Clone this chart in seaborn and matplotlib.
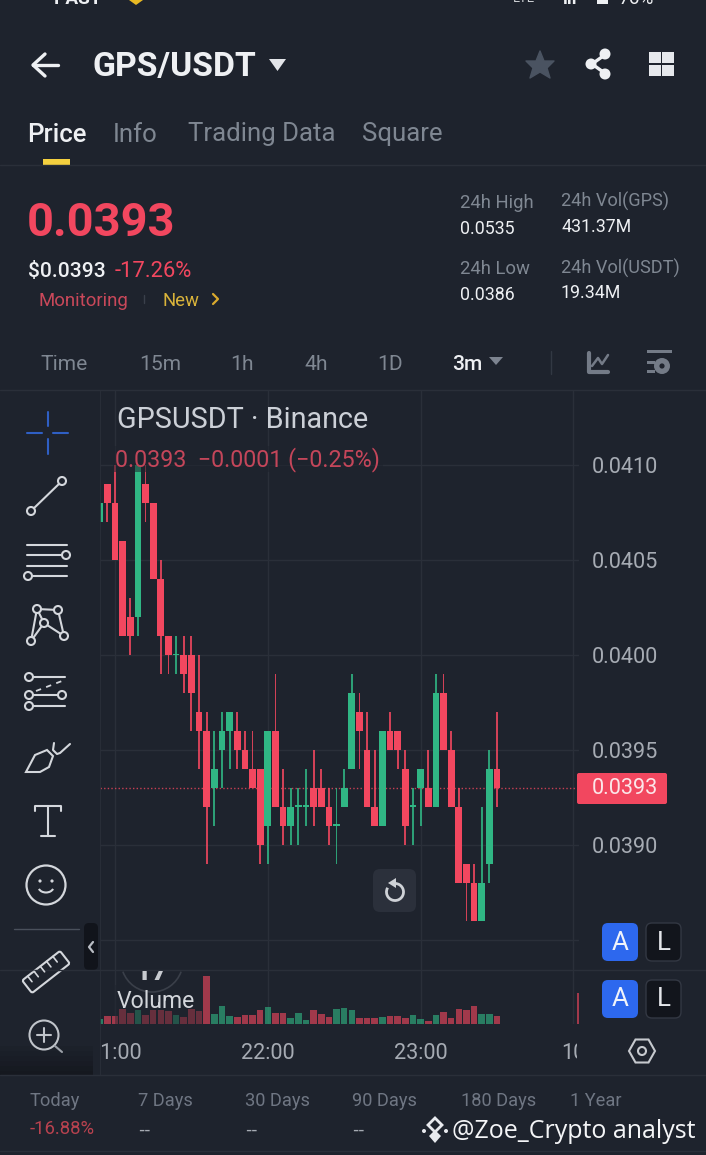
import matplotlib
matplotlib.use('Agg')
import matplotlib.pyplot as plt
import seaborn as sns
import pandas as pd
from matplotlib.patches import Circle, FancyBboxPatch, Polygon, Rectangle, Arc
from matplotlib.transforms import Bbox, Affine2D

# 3m candles
candle_open = [0.0407, 0.0409, 0.0408, 0.0406, 0.0402, 0.0402, 0.0409, 0.0408, 0.0404, 0.0401,
               0.0400, 0.0400, 0.0400, 0.0397, 0.0396, 0.0393, 0.0395, 0.0396, 0.0396, 0.0395,
               0.0394, 0.0394, 0.0391, 0.0396, 0.0392, 0.0391, 0.0392, 0.0392, 0.0393, 0.0393,
               0.0392, 0.0391, 0.0392, 0.0394, 0.0397, 0.0395, 0.0392, 0.0391, 0.0396, 0.0396,
               0.0394, 0.0392, 0.0393, 0.0393, 0.0392, 0.0398, 0.0395, 0.0392, 0.0389, 0.0388,
               0.0386, 0.0389, 0.0394]
candle_close = [0.0408, 0.0408, 0.0405, 0.0401, 0.0401, 0.0410, 0.0408, 0.0404, 0.0401, 0.0400,
                0.0400, 0.0399, 0.0398, 0.0396, 0.0392, 0.0394, 0.0396, 0.0397, 0.0395, 0.0394,
                0.0393, 0.0390, 0.0396, 0.0392, 0.0391, 0.0392, 0.0392, 0.0392, 0.0392, 0.0392,
                0.0391, 0.0391, 0.0393, 0.0398, 0.0396, 0.0392, 0.0391, 0.0396, 0.0395, 0.0395,
                0.0391, 0.0392, 0.0394, 0.0392, 0.0398, 0.0395, 0.0392, 0.0388, 0.0388, 0.0386,
                0.0388, 0.0394, 0.0393]
candle_high = [0.0408, 0.0409, 0.0410, 0.0406, 0.0403, 0.0410, 0.0410, 0.0408, 0.0405, 0.0401,
               0.0401, 0.0401, 0.0401, 0.0400, 0.0397, 0.0396, 0.0397, 0.0397, 0.0397, 0.0396,
               0.0396, 0.0394, 0.0396, 0.0399, 0.0394, 0.0393, 0.0393, 0.0394, 0.0395, 0.0394,
               0.0393, 0.0393, 0.0394, 0.0399, 0.0398, 0.0397, 0.0395, 0.0396, 0.0397, 0.0396,
               0.0395, 0.0393, 0.0394, 0.0395, 0.0399, 0.0399, 0.0396, 0.0393, 0.0389, 0.0389,
               0.0392, 0.0395, 0.0397]
candle_low = [0.0407, 0.0407, 0.0405, 0.0401, 0.0400, 0.0401, 0.0407, 0.0404, 0.0399, 0.0399,
              0.0399, 0.0398, 0.0396, 0.0394, 0.0389, 0.0391, 0.0393, 0.0394, 0.0394, 0.0394,
              0.0393, 0.0389, 0.0389, 0.0392, 0.0390, 0.0390, 0.0390, 0.0391, 0.0391, 0.0392,
              0.0390, 0.0389, 0.0392, 0.0394, 0.0394, 0.0392, 0.0391, 0.0391, 0.0395, 0.0394,
              0.0390, 0.0390, 0.0391, 0.0392, 0.0392, 0.0395, 0.0392, 0.0388, 0.0386, 0.0386,
              0.0386, 0.0388, 0.0392]
volume = [14, 24, 24, 45, 32, 42, 27, 42, 42, 40, 28, 22, 45, 38, 145, 30, 55, 25, 21, 27,
          27, 42, 52, 33, 33, 17, 33, 12, 42, 30, 22, 45, 47, 42, 18, 18, 17, 21, 24, 24,
          18, 27, 15, 10, 27, 36, 18, 44, 42, 55, 30, 30, 24]
stray_index = [62.65]
stray_volume = [93]

price_ticks = [0.0385, 0.0390, 0.0395, 0.0400, 0.0405, 0.0410]
price_labels = ['', '0.0390', '0.0395', '0.0400', '0.0405', '0.0410']
time_ticks = [2, 22, 42, 62]
time_labels = ['21:00', '22:00', '23:00', '10']
last_price = 0.0393

interval_names = ['Time', '15m', '1h', '4h', '1D']
interval_x = [40, 139, 230, 304, 377]
period_names = ['Today', '7 Days', '30 Days', '90 Days', '180 Days', '1 Year']
period_values = ['-16.88%', '--', '--', '--', '', '']
period_x = [30, 138, 245, 352, 461, 570]

BG = '#1e232d'
LINE = '#2a2f39'
RED = '#f2475f'
GREEN = '#30b684'
WHITE = '#eef0f3'
GREY = '#7f8792'
ICON = '#d4d7dc'

sns.set_theme(style='dark', rc={'figure.facecolor': BG, 'axes.facecolor': BG, 'savefig.facecolor': BG,
                                'patch.force_edgecolor': False})
plt.rcParams['font.family'] = ['Roboto', 'DejaVu Sans']

df = pd.DataFrame({'idx': range(len(candle_open)), 'open': candle_open, 'close': candle_close,
                   'high': candle_high, 'low': candle_low, 'volume': volume})
df['up'] = df['close'] >= df['open']
df['body_lo'] = df[['open', 'close']].min(axis=1)
# doji candles still show as a hairline
df['body_h'] = (df['close'] - df['open']).abs().clip(lower=0.000007)
df['wick_h'] = df['high'] - df['low']

fig = plt.figure(figsize=(7.06, 11.55), dpi=100)
W, H = 706, 1155


def axes_px(x0, y0, x1, y1):
    return fig.add_axes([x0 / W, 1 - y1 / H, (x1 - x0) / W, (y1 - y0) / H])


ax = axes_px(100, 390, 579, 970)
vol_ax = axes_px(100, 970, 579, 1024)

# wicks then bodies, one colour at a time
for is_up, col in [(True, GREEN), (False, RED)]:
    sub = df[df['up'] == is_up]
    sns.barplot(data=sub, x='idx', y='wick_h', bottom=sub['low'].values, native_scale=True, color=col,
                saturation=1, width=0.24, errorbar=None, linewidth=0, alpha=0.85, ax=ax, zorder=3)
    sns.barplot(data=sub, x='idx', y='body_h', bottom=sub['body_lo'].values, native_scale=True, color=col,
                saturation=1, width=0.88, errorbar=None, linewidth=0, ax=ax, zorder=4)
    sns.barplot(data=sub, x='idx', y='volume', native_scale=True, color=col, saturation=1, width=0.86,
                errorbar=None, linewidth=0, alpha=0.62, ax=vol_ax, zorder=3)
stray = pd.DataFrame({'idx': stray_index, 'volume': stray_volume})
sns.barplot(data=stray, x='idx', y='volume', native_scale=True, color=RED, saturation=1, width=0.3,
            errorbar=None, linewidth=0, alpha=0.62, ax=vol_ax, zorder=3)

ax.axhline(last_price, color=RED, lw=1, ls=(0, (1, 1.6)), alpha=0.8, zorder=2)

for a in (ax, vol_ax):
    a.set_xlim(0.04, 62.73)
    a.set_xlabel('')
    a.set_ylabel('')
    a.set_xticks(time_ticks)
    a.set_axisbelow(True)
    a.xaxis.grid(True, color=LINE, lw=1)
    sns.despine(ax=a, left=True, right=True, top=True, bottom=True)
    a.tick_params(length=0)

ax.set_ylim(0.03834, 0.041395)
ax.set_yticks(price_ticks)
ax.set_yticklabels(price_labels)
ax.yaxis.tick_right()
ax.yaxis.grid(True, color=LINE, lw=1)
ax.tick_params(axis='y', labelsize=15.6, labelcolor='#a6abb3', pad=9.5)
ax.tick_params(axis='x', labelbottom=False)

vol_ax.set_ylim(0, 162)
vol_ax.set_yticks([])
vol_ax.set_xticklabels(time_labels)
vol_ax.tick_params(axis='x', labelsize=15.6, labelcolor='#a6abb3', pad=13.4)
for lab in vol_ax.get_xticklabels():
    lab.set_clip_box(Bbox([[100, 0], [577, H]]))
    lab.set_clip_on(True)

# screen chrome, drawn in pixel coordinates on top of the chart
ui = fig.add_axes([0, 0, 1, 1], zorder=5)
ui.set_xlim(0, W)
ui.set_ylim(H, 0)
ui.axis('off')
ui.patch.set_alpha(0)


def label(x, y, s, size, color=GREY, weight='normal', ha='left', family=None):
    return ui.text(x, y + 1.5, s, fontsize=size * 0.72, color=color, fontweight=weight, ha=ha, va='center',
                   family=family or ['Roboto', 'DejaVu Sans'])


def seg(xs, ys, color=ICON, lw=1.5, **kw):
    ui.plot(xs, ys, color=color, lw=lw, solid_capstyle='round', **kw)


def ring(x, y, r=4, color=ICON, lw=1.5):
    ui.add_patch(Circle((x, y), r, fc=BG, ec=color, lw=lw, zorder=4))


def box(x0, y0, x1, y1, fc, ec='none', rad=5, lw=1, **kw):
    p = FancyBboxPatch((x0 + rad, y0 + rad), x1 - x0 - 2 * rad, y1 - y0 - 2 * rad,
                       boxstyle=f'round,pad={rad},rounding_size={rad}', fc=fc, ec=ec, lw=lw, **kw)
    ui.add_patch(p)


# divider lines
for yy in (165, 390, 970, 1075, 1151):
    ui.plot([0, W], [yy, yy], color=LINE, lw=1)
ui.plot([100, 100], [390, 1075], color=LINE, lw=0.6)

# cut-off status bar
label(54, -3, 'PAST', 19, WHITE, 'bold')
ui.add_patch(Polygon([[129, 0], [143, 0], [136, 5]], fc='#e8b923'))
label(513, -3, 'LTE', 13, '#cfd2d6')
label(563, -3, 'ııı', 18, WHITE, 'bold')
ui.add_patch(Rectangle((597, 0), 11, 4, fc=WHITE))
label(618, -3, '76%', 19, WHITE)

# header
seg([33, 58], [65, 65], color=WHITE, lw=2.4)
seg([45, 33, 45], [54, 65, 76], color=WHITE, lw=2.4)
label(93, 65.5, 'GPS/USDT', 33.8, WHITE, 'bold')
ui.add_patch(Polygon([[269, 59], [286, 59], [277.5, 71]], fc='#e3e5e9'))
star = [[540, 51], [544, 61], [554, 61], [547, 68], [550, 78], [540, 72], [530, 78], [533, 68], [526, 61], [536, 61]]
ui.add_patch(Polygon(star, fc='#4a5361', ec='#4a5361', lw=1, joinstyle='round'))
seg([592, 606], [64, 54], color=WHITE, lw=2.4)
seg([592, 606], [64, 74], color=WHITE, lw=2.4)
for cx, cy in [(591, 64), (605, 54), (605, 74)]:
    ui.add_patch(Circle((cx, cy), 5.5, fc=WHITE))
for sx, sy in [(649, 52), (662, 52), (649, 65), (662, 65)]:
    ui.add_patch(Rectangle((sx, sy), 11.5, 11, fc='#e6e8ec'))

# tabs
label(27, 133, 'Price', 25.8, WHITE, 'medium')
label(113, 133, 'Info', 25.8, GREY)
label(188, 133, 'Trading Data', 25.8, GREY)
label(362, 133, 'Square', 25.8, GREY)
ui.add_patch(Rectangle((43, 159), 27, 6, fc='#f4d03f'))

# price block
label(27, 221, '0.0393', 47, RED, 'bold')
label(28, 270, '$0.0393', 21, WHITE, 'medium')
label(115, 270, '-17.26%', 22, RED)
label(38, 299, 'Monitoring', 18.6, '#c9485a')
ui.plot([144, 144], [295, 303], color='#3a404b', lw=1)
label(162, 299, 'New', 18.5, '#d9b33a')
seg([213, 218, 213], [294, 299, 304], color='#d9a92e', lw=1.6)

label(460, 202, '24h High', 18.5)
label(460, 228, '0.0535', 17.7, WHITE)
label(561, 200, '24h Vol(GPS)', 18.2)
label(561, 226, '431.37M', 17.8, WHITE)
label(460, 268, '24h Low', 18.5)
label(460, 294, '0.0386', 17.7, WHITE)
label(561, 267, '24h Vol(USDT)', 18.2)
label(561, 292, '19.34M', 17.8, WHITE)

# interval bar
for xx, name in zip(interval_x, interval_names):
    label(xx, 363, name, 21, GREY)
label(452, 363, '3m', 21, WHITE, 'medium')
ui.add_patch(Polygon([[489, 357], [503, 357], [496, 365]], fc='#7d8490'))
ui.plot([551, 551], [351, 374], color='#323843', lw=1)
seg([589, 589, 608], [353, 372, 372], color='#747b87', lw=3)
seg([592, 598, 602, 608], [366, 358, 364, 355], color='#747b87', lw=1.8)
ui.add_patch(Rectangle((647, 350), 25, 3, fc='#747b87'))
ui.add_patch(Rectangle((647, 361), 8, 3, fc='#747b87'))
ui.add_patch(Rectangle((647, 370), 8, 3, fc='#747b87'))
ui.add_patch(Circle((662, 366), 8, fc='#747b87'))
ui.add_patch(Circle((662, 366), 2.6, fc=BG))

# chart legend
label(117, 419, 'GPSUSDT · Binance', 28.7, '#ccd0d7')
ui.add_patch(Rectangle((113, 446), 270, 26, fc=BG, alpha=0.55, lw=0))
label(115, 458, '0.0393  −0.0001 (−0.25%)', 23.3, '#c4465a')

# left toolbar
BLUE = '#2f5fc4'
seg([27, 42], [433, 433], color=BLUE)
seg([53, 68], [433, 433], color=BLUE)
seg([47.5, 47.5], [412, 426], color=BLUE)
seg([47.5, 47.5], [439, 454], color=BLUE)

seg([31, 62], [511, 481])
ring(31, 511)
ring(62, 481)

for yy in (545, 555, 566, 576):
    seg([27, 67], [yy, yy])
ring(66, 555)
ring(28, 576)

pts = [(31, 641), (37, 609), (44, 623), (64, 636), (58, 610)]
seg([p[0] for p in pts] + [37], [p[1] for p in pts] + [609])
seg([44, 31], [623, 641])
for p in pts:
    ring(p[0], p[1])

seg([30, 65], [677, 677])
ui.plot([36, 62], [691, 681], color=ICON, lw=1.3, ls=(0, (3, 3)))
seg([30, 62], [695, 695])
seg([30, 65], [706, 706])
ring(29, 677)
ring(29, 695)
ring(62, 695)
ring(29, 706)

ui.add_patch(Polygon([[26, 772], [35, 755], [47, 750], [53, 756], [49, 767], [40, 772]], fc=BG, ec=ICON, lw=1.5))
seg([54, 53, 57, 60, 70], [743, 750, 754, 753, 744])

seg([35, 35, 61, 61], [811, 806, 806, 811])
seg([48, 48], [806, 836])
seg([41, 55], [836, 836])

ui.add_patch(Circle((46, 885), 19.5, fc='none', ec=ICON, lw=1.6))
ui.add_patch(Circle((40, 881), 1.6, fc=ICON))
ui.add_patch(Circle((52, 881), 1.6, fc=ICON))
ui.add_patch(Arc((46, 887), 15, 11, theta1=15, theta2=165, ec=ICON, lw=1.5))

ui.plot([14, 79], [929, 929], color='#4a505b', lw=1)
box(84, 923, 98, 970, '#11141b', rad=5)
seg([93, 89, 93], [942, 947, 952], color='#b9bdc4', lw=1.6)

ruler_tf = Affine2D().rotate_deg_around(46, 972, -38) + ui.transData
ui.add_patch(FancyBboxPatch((22, 964), 48, 16, boxstyle='round,pad=0,rounding_size=2', fc='none', ec=ICON, lw=1.5,
                            transform=ruler_tf))
for i in range(5):
    tick_x = 29 + i * 8
    seg([tick_x, tick_x], [964, 971], lw=1.2, transform=ruler_tf)

for i in range(6):
    ui.add_patch(Rectangle((0, 1046 + i * 5), 93, 5, fc='#14171e', alpha=0.15 + i * 0.15, lw=0))
ui.add_patch(Circle((44, 1035), 14.5, fc='none', ec='#c0c4ca', lw=1.5))
seg([37, 51], [1035, 1035], color='#c0c4ca')
seg([44, 44], [1028, 1042], color='#c0c4ca')
seg([55, 62], [1046, 1052], color='#9ca1a9')

# volume legend and the clipped TradingView badge
ui.add_patch(Rectangle((115, 985), 88, 39, fc=BG, alpha=0.45, lw=0))
ui.add_patch(Arc((152, 961), 62, 62, theta1=20, theta2=160, ec='#3a3f49', lw=1.2))
badge = label(152, 971, '17', 30, '#c8cbd0', 'bold', ha='center')
badge.set_clip_box(Bbox([[100, H - 985], [200, H - 971]]))
badge.set_clip_on(True)
label(117, 1000, 'Volume', 23, '#d3d6db')

# price tag
box(577, 773, 667, 804, RED, rad=2)
label(625, 787.5, '0.0393', 21.6, '#fbe6e9', ha='center')

# reset button
box(373, 869, 416, 912, '#2b303b', rad=7)
ui.add_patch(Arc((395, 892), 17, 17, theta1=-90, theta2=210, ec='#cfd2d7', lw=2))
ui.add_patch(Polygon([[388, 883], [396, 878], [396, 888]], fc='#cfd2d7'))

# auto / log buttons
for top in (923, 980):
    box(602, top, 638, top + 38, '#2d68ee', rad=6)
    box(646, top, 681, top + 38, '#12151c', ec='#333843', rad=6)
    label(620, top + 18, 'A', 26, '#f0f3fa', ha='center')
    label(663.5, top + 18, 'L', 26, '#e4e6ea', ha='center')

# settings hexagon
hexagon = [[629, 1051], [635.5, 1039.5], [648.5, 1039.5], [655, 1051], [648.5, 1062.5], [635.5, 1062.5]]
ui.add_patch(Polygon(hexagon, fc='none', ec='#c6c9ce', lw=1.5))
ui.add_patch(Circle((642, 1051), 4, fc='none', ec='#c6c9ce', lw=1.5))

# performance row
for xx, name, val in zip(period_x, period_names, period_values):
    label(xx, 1099, name, 18.3, '#6f7683')
    if val.startswith('-1'):
        label(xx, 1128, val, 18.5, '#b8424f')
    elif val:
        label(xx, 1128, val, 17, '#a6abb3', family=['DejaVu Sans'])

# watermark
ui.add_patch(Polygon([[435, 1118], [442, 1125], [435, 1132], [428, 1125]], fc='none', ec='#e8eaee', lw=2))
ui.add_patch(Polygon([[435, 1130], [441, 1136], [435, 1143], [429, 1136]], fc='#e8eaee'))
ui.add_patch(Circle((424, 1131), 2, fc='#e8eaee'))
ui.add_patch(Circle((446, 1131), 2, fc='#e8eaee'))
label(452, 1130, '@Zoe_Crypto analyst', 25, '#f4f5f7', family=['Open Sans', 'DejaVu Sans'])

fig.savefig('out.png', dpi=100)
plt.close(fig)
